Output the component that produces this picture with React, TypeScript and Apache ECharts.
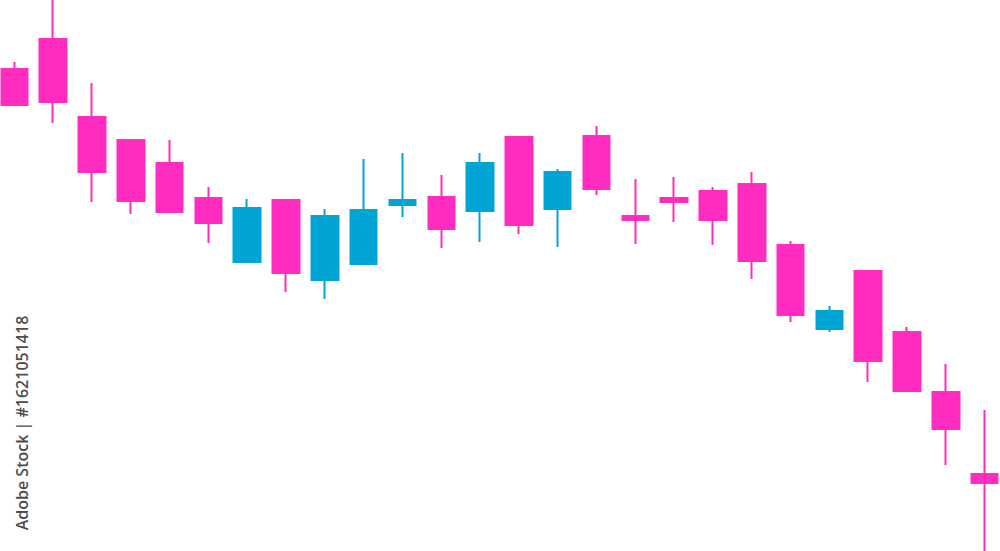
import React, { useEffect, useRef } from "react";
import * as echarts from "echarts";

// Each candle: [open, close, lowest, highest]
const categories = [
  "1", "2", "3", "4", "5", "6", "7", "8", "9", "10", "11", "12", "13",
  "14", "15", "16", "17", "18", "19", "20", "21", "22", "23", "24", "25", "26",
];
const opens = [482, 512, 434, 411, 388, 353, 289, 351, 271, 287, 346, 354, 340, 414, 342, 415, 335, 353, 360, 367, 306, 222, 280, 219, 159, 77];
const closes = [446, 449, 379, 350, 339, 328, 343, 278, 335, 341, 351, 322, 388, 326, 379, 362, 331, 349, 331, 290, 236, 240, 190, 160, 122, 68];
const lows = [446, 428, 349, 337, 339, 308, 289, 259, 252, 287, 334, 303, 309, 317, 304, 356, 307, 329, 306, 272, 229, 219, 169, 160, 86, -10];
const highs = [489, 560, 468, 411, 411, 364, 352, 351, 342, 392, 398, 376, 398, 414, 382, 425, 372, 374, 364, 379, 310, 245, 280, 224, 187, 141];

const UP = "#00A5D6";
const DOWN = "#FF2CBF";

export default function App() {
  const ref = useRef<HTMLDivElement>(null);
  useEffect(() => {
    if (!ref.current) return;
    const chart = echarts.init(ref.current, undefined, { renderer: "svg" });
    const data = categories.map((_, i) => [opens[i], closes[i], lows[i], highs[i]]);
    chart.setOption({
      animation: false,
      backgroundColor: "#ffffff",
      grid: { left: 0, right: 0, top: 0, bottom: 0, containLabel: false },
      xAxis: {
        type: "category",
        data: categories,
        boundaryGap: true,
        show: false,
      },
      yAxis: {
        type: "value",
        min: 0,
        max: 551,
        show: false,
        splitLine: { show: false },
      },
      series: [
        {
          type: "candlestick",
          data,
          barWidth: 27,
          clip: true,
          itemStyle: {
            color: UP,
            color0: DOWN,
            borderColor: UP,
            borderColor0: DOWN,
            borderWidth: 2,
          },
        },
      ],
      graphic: [
        {
          type: "text",
          x: 27,
          y: 423,
          rotation: Math.PI / 2,
          style: {
            text: "Adobe Stock | #1621051418",
            fill: "#4d4d4d",
            font: "600 16px 'Open Sans', sans-serif",
            align: "center",
            verticalAlign: "middle",
          },
        },
      ],
    });
    return () => chart.dispose();
  }, []);
  return (
    <div style={{ position: "fixed", left: 0, top: 0, width: 1000, height: 551, overflow: "hidden", background: "#fff" }}>
      <div
        ref={ref}
        style={{ position: "absolute", left: -5, top: 0, width: 1009, height: 551 }}
      />
    </div>
  );
}
